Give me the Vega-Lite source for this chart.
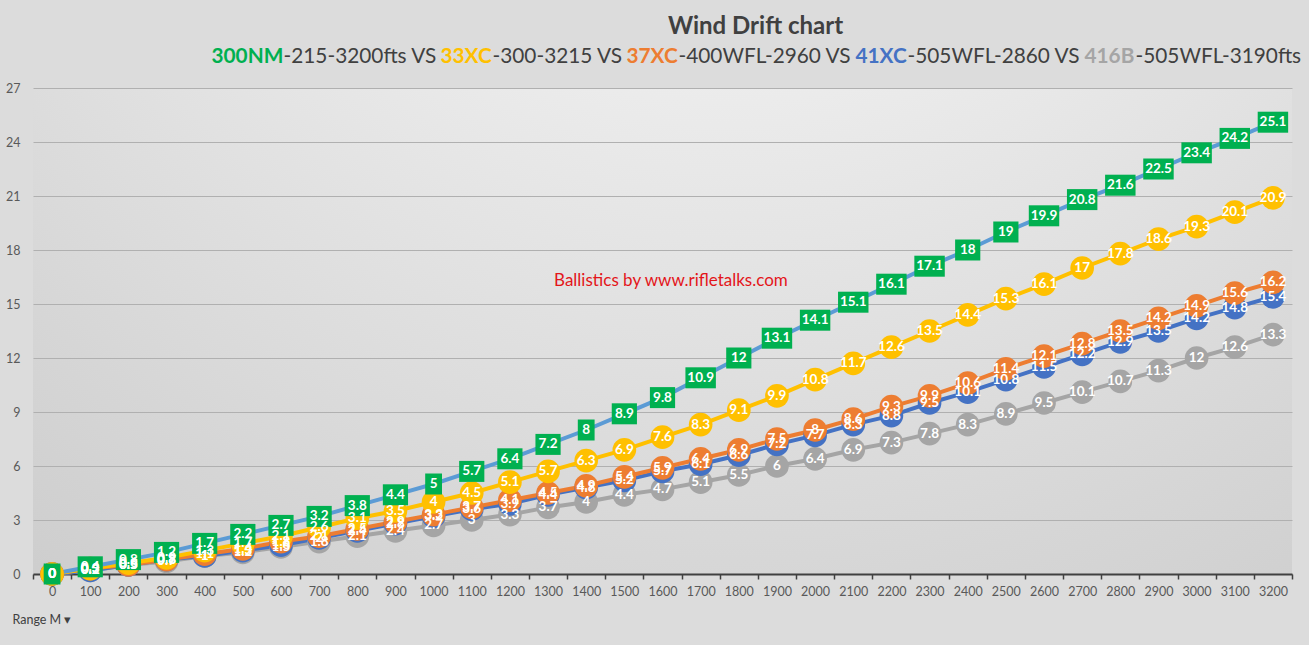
{
  "$schema": "https://vega.github.io/schema/vega-lite/v6.json",
  "width": 1259,
  "height": 486,
  "autosize": {"type": "none"},
  "padding": {"left": 33, "top": 88, "right": 17, "bottom": 71},
  "background": "#dcdcdc",
  "title": {
    "text": "Wind Drift chart",
    "anchor": "middle",
    "frame": "group",
    "dx": 93,
    "offset": 6,
    "font": "Lato",
    "fontSize": 24,
    "fontWeight": "bold",
    "color": "#404040"
  },
  "config": {
    "view": {
      "stroke": null,
      "fill": {
        "gradient": "radial",
        "x1": 0.55, "y1": -0.1, "r1": 0,
        "x2": 0.55, "y2": -0.1, "r2": 1,
        "stops": [
          {"offset": 0, "color": "#fbfbfb"},
          {"offset": 0.4, "color": "#ececec"},
          {"offset": 0.8, "color": "#d6d6d6"},
          {"offset": 1, "color": "#cccccc"}
        ]
      }
    },
    "font": "Lato",
    "axisTop": {
      "labels": false, "ticks": false, "domain": false, "grid": false,
      "titleFont": "Lato", "titleFontSize": 20.8, "titleFontWeight": "normal",
      "titleColor": "#404040", "titleAnchor": "start", "titleAlign": "left",
      "titleBaseline": "alphabetic", "titleY": -26
    }
  },
  "data": {
    "values": [
      {"range":0,"series":"416B","drift":0},{"range":100,"series":"416B","drift":0.2},{"range":200,"series":"416B","drift":0.5},{"range":300,"series":"416B","drift":0.7},{"range":400,"series":"416B","drift":1},{"range":500,"series":"416B","drift":1.2},{"range":600,"series":"416B","drift":1.5},{"range":700,"series":"416B","drift":1.8},{"range":800,"series":"416B","drift":2.1},{"range":900,"series":"416B","drift":2.4},{"range":1000,"series":"416B","drift":2.7},{"range":1100,"series":"416B","drift":3},{"range":1200,"series":"416B","drift":3.3},{"range":1300,"series":"416B","drift":3.7},{"range":1400,"series":"416B","drift":4},{"range":1500,"series":"416B","drift":4.4},{"range":1600,"series":"416B","drift":4.7},{"range":1700,"series":"416B","drift":5.1},{"range":1800,"series":"416B","drift":5.5},{"range":1900,"series":"416B","drift":6},{"range":2000,"series":"416B","drift":6.4},{"range":2100,"series":"416B","drift":6.9},{"range":2200,"series":"416B","drift":7.3},{"range":2300,"series":"416B","drift":7.8},{"range":2400,"series":"416B","drift":8.3},{"range":2500,"series":"416B","drift":8.9},{"range":2600,"series":"416B","drift":9.5},{"range":2700,"series":"416B","drift":10.1},{"range":2800,"series":"416B","drift":10.7},{"range":2900,"series":"416B","drift":11.3},{"range":3000,"series":"416B","drift":12},{"range":3100,"series":"416B","drift":12.6},{"range":3200,"series":"416B","drift":13.3},
      {"range":0,"series":"41XC","drift":0},{"range":100,"series":"41XC","drift":0.2},{"range":200,"series":"41XC","drift":0.5},{"range":300,"series":"41XC","drift":0.8},{"range":400,"series":"41XC","drift":1},{"range":500,"series":"41XC","drift":1.3},{"range":600,"series":"41XC","drift":1.6},{"range":700,"series":"41XC","drift":2},{"range":800,"series":"41XC","drift":2.4},{"range":900,"series":"41XC","drift":2.8},{"range":1000,"series":"41XC","drift":3.2},{"range":1100,"series":"41XC","drift":3.6},{"range":1200,"series":"41XC","drift":3.9},{"range":1300,"series":"41XC","drift":4.4},{"range":1400,"series":"41XC","drift":4.8},{"range":1500,"series":"41XC","drift":5.2},{"range":1600,"series":"41XC","drift":5.7},{"range":1700,"series":"41XC","drift":6.1},{"range":1800,"series":"41XC","drift":6.6},{"range":1900,"series":"41XC","drift":7.2},{"range":2000,"series":"41XC","drift":7.7},{"range":2100,"series":"41XC","drift":8.3},{"range":2200,"series":"41XC","drift":8.8},{"range":2300,"series":"41XC","drift":9.5},{"range":2400,"series":"41XC","drift":10.1},{"range":2500,"series":"41XC","drift":10.8},{"range":2600,"series":"41XC","drift":11.5},{"range":2700,"series":"41XC","drift":12.2},{"range":2800,"series":"41XC","drift":12.9},{"range":2900,"series":"41XC","drift":13.5},{"range":3000,"series":"41XC","drift":14.2},{"range":3100,"series":"41XC","drift":14.8},{"range":3200,"series":"41XC","drift":15.4},
      {"range":0,"series":"37XC","drift":0},{"range":100,"series":"37XC","drift":0.3},{"range":200,"series":"37XC","drift":0.5},{"range":300,"series":"37XC","drift":0.8},{"range":400,"series":"37XC","drift":1.1},{"range":500,"series":"37XC","drift":1.4},{"range":600,"series":"37XC","drift":1.8},{"range":700,"series":"37XC","drift":2.1},{"range":800,"series":"37XC","drift":2.5},{"range":900,"series":"37XC","drift":2.9},{"range":1000,"series":"37XC","drift":3.3},{"range":1100,"series":"37XC","drift":3.7},{"range":1200,"series":"37XC","drift":4.1},{"range":1300,"series":"37XC","drift":4.5},{"range":1400,"series":"37XC","drift":4.9},{"range":1500,"series":"37XC","drift":5.4},{"range":1600,"series":"37XC","drift":5.9},{"range":1700,"series":"37XC","drift":6.4},{"range":1800,"series":"37XC","drift":6.9},{"range":1900,"series":"37XC","drift":7.5},{"range":2000,"series":"37XC","drift":8},{"range":2100,"series":"37XC","drift":8.6},{"range":2200,"series":"37XC","drift":9.3},{"range":2300,"series":"37XC","drift":9.9},{"range":2400,"series":"37XC","drift":10.6},{"range":2500,"series":"37XC","drift":11.4},{"range":2600,"series":"37XC","drift":12.1},{"range":2700,"series":"37XC","drift":12.8},{"range":2800,"series":"37XC","drift":13.5},{"range":2900,"series":"37XC","drift":14.2},{"range":3000,"series":"37XC","drift":14.9},{"range":3100,"series":"37XC","drift":15.6},{"range":3200,"series":"37XC","drift":16.2},
      {"range":0,"series":"33XC","drift":0},{"range":100,"series":"33XC","drift":0.3},{"range":200,"series":"33XC","drift":0.6},{"range":300,"series":"33XC","drift":0.9},{"range":400,"series":"33XC","drift":1.3},{"range":500,"series":"33XC","drift":1.7},{"range":600,"series":"33XC","drift":2.1},{"range":700,"series":"33XC","drift":2.6},{"range":800,"series":"33XC","drift":3.1},{"range":900,"series":"33XC","drift":3.5},{"range":1000,"series":"33XC","drift":4},{"range":1100,"series":"33XC","drift":4.5},{"range":1200,"series":"33XC","drift":5.1},{"range":1300,"series":"33XC","drift":5.7},{"range":1400,"series":"33XC","drift":6.3},{"range":1500,"series":"33XC","drift":6.9},{"range":1600,"series":"33XC","drift":7.6},{"range":1700,"series":"33XC","drift":8.3},{"range":1800,"series":"33XC","drift":9.1},{"range":1900,"series":"33XC","drift":9.9},{"range":2000,"series":"33XC","drift":10.8},{"range":2100,"series":"33XC","drift":11.7},{"range":2200,"series":"33XC","drift":12.6},{"range":2300,"series":"33XC","drift":13.5},{"range":2400,"series":"33XC","drift":14.4},{"range":2500,"series":"33XC","drift":15.3},{"range":2600,"series":"33XC","drift":16.1},{"range":2700,"series":"33XC","drift":17},{"range":2800,"series":"33XC","drift":17.8},{"range":2900,"series":"33XC","drift":18.6},{"range":3000,"series":"33XC","drift":19.3},{"range":3100,"series":"33XC","drift":20.1},{"range":3200,"series":"33XC","drift":20.9},
      {"range":0,"series":"300NM","drift":0},{"range":100,"series":"300NM","drift":0.4},{"range":200,"series":"300NM","drift":0.8},{"range":300,"series":"300NM","drift":1.2},{"range":400,"series":"300NM","drift":1.7},{"range":500,"series":"300NM","drift":2.2},{"range":600,"series":"300NM","drift":2.7},{"range":700,"series":"300NM","drift":3.2},{"range":800,"series":"300NM","drift":3.8},{"range":900,"series":"300NM","drift":4.4},{"range":1000,"series":"300NM","drift":5},{"range":1100,"series":"300NM","drift":5.7},{"range":1200,"series":"300NM","drift":6.4},{"range":1300,"series":"300NM","drift":7.2},{"range":1400,"series":"300NM","drift":8},{"range":1500,"series":"300NM","drift":8.9},{"range":1600,"series":"300NM","drift":9.8},{"range":1700,"series":"300NM","drift":10.9},{"range":1800,"series":"300NM","drift":12},{"range":1900,"series":"300NM","drift":13.1},{"range":2000,"series":"300NM","drift":14.1},{"range":2100,"series":"300NM","drift":15.1},{"range":2200,"series":"300NM","drift":16.1},{"range":2300,"series":"300NM","drift":17.1},{"range":2400,"series":"300NM","drift":18},{"range":2500,"series":"300NM","drift":19},{"range":2600,"series":"300NM","drift":19.9},{"range":2700,"series":"300NM","drift":20.8},{"range":2800,"series":"300NM","drift":21.6},{"range":2900,"series":"300NM","drift":22.5},{"range":3000,"series":"300NM","drift":23.4},{"range":3100,"series":"300NM","drift":24.2},{"range":3200,"series":"300NM","drift":25.1}
    ]
  },
  "resolve": {"axis": {"x": "independent"}},
  "layer": [
    {
      "encoding": {
        "x": {
          "field": "range",
          "type": "ordinal",
          "scale": {"type": "band", "paddingInner": 0, "paddingOuter": 0},
          "axis": {
            "title": "Range M  \u25be",
            "titleFont": "Lato",
            "titleFontSize": 12.5,
            "titleFontWeight": "normal",
            "titleColor": "#404040",
            "titleAnchor": "start",
            "titleAlign": "left",
            "titleBaseline": "middle",
            "titleX": -21,
            "titleY": 45,
            "labelAngle": 0,
            "labelFont": "Lato",
            "labelFontSize": 12.5,
            "labelColor": "#595959",
            "labelPadding": 6,
            "domainColor": "#404040",
            "domainWidth": 2,
            "tickColor": "#404040",
            "tickWidth": 1.5,
            "tickSize": 5,
            "tickBand": "extent",
            "grid": false
          }
        },
        "y": {
          "field": "drift",
          "type": "quantitative",
          "scale": {"domain": [0, 27], "nice": false},
          "axis": {
            "title": null,
            "values": [0, 3, 6, 9, 12, 15, 18, 21, 24, 27],
            "labelFont": "Lato",
            "labelFontSize": 12.5,
            "labelColor": "#595959",
            "labelPadding": 13,
            "domain": false,
            "ticks": false,
            "grid": true,
            "gridColor": "#b0b0b0",
            "gridWidth": 1
          }
        }
      },
      "layer": [
        {
          "mark": {"type": "line", "strokeWidth": 4, "strokeCap": "round"},
          "encoding": {
            "color": {
              "field": "series",
              "type": "nominal",
              "scale": {
                "domain": ["300NM", "33XC", "37XC", "41XC", "416B"],
                "range": ["#5B9BD5", "#FFC000", "#ED7D31", "#4472C4", "#A5A5A5"]
              },
              "legend": null
            }
          }
        },
        {
          "transform": [{"filter": "datum.series != '300NM'"}],
          "mark": {"type": "point", "shape": "circle", "filled": true, "opacity": 1, "size": 560},
          "encoding": {
            "color": {"field": "series", "type": "nominal", "legend": null}
          }
        },
        {
          "transform": [{"filter": "datum.series == '300NM'"}],
          "mark": {"type": "point", "filled": true, "opacity": 1, "size": 441, "color": "#00B050"},
          "encoding": {
            "shape": {
              "condition": [
                {"test": "datum.drift < 10 && datum.drift == floor(datum.drift)", "value": "M-0.8,-1L0.8,-1L0.8,1L-0.8,1Z"},
                {"test": "datum.drift < 10 || datum.drift == floor(datum.drift)", "value": "M-1.2,-1L1.2,-1L1.2,1L-1.2,1Z"}
              ],
              "value": "M-1.45,-1L1.45,-1L1.45,1L-1.45,1Z"
            }
          }
        },
        {
          "mark": {"type": "text", "font": "Lato", "fontSize": 13.5, "fontWeight": "bold", "color": "#ffffff", "baseline": "middle", "align": "center"},
          "encoding": {
            "text": {"field": "drift", "type": "quantitative", "format": "~g"}
          }
        },
        {
          "data": {"values": [{"range": 1300, "drift": 16.3, "note": "Ballistics by www.rifletalks.com"}]},
          "mark": {"type": "text", "font": "Lato", "fontSize": 17, "color": "#e3151a", "align": "left", "baseline": "middle", "dx": 6},
          "encoding": {
            "text": {"field": "note", "type": "nominal"}
          }
        }
      ]
    },
    {"transform": [{"filter": "false"}], "mark": {"type": "point", "opacity": 0},
     "encoding": {"x": {"field": "range", "type": "ordinal", "axis": {"orient": "top", "title": "300NM", "titleColor": "#00B050", "titleFontWeight": "bold", "titleX": 178}}}},
    {"transform": [{"filter": "false"}], "mark": {"type": "point", "opacity": 0},
     "encoding": {"x": {"field": "range", "type": "ordinal", "axis": {"orient": "top", "title": "-215-3200fts VS", "titleX": 250}}}},
    {"transform": [{"filter": "false"}], "mark": {"type": "point", "opacity": 0},
     "encoding": {"x": {"field": "range", "type": "ordinal", "axis": {"orient": "top", "title": "33XC", "titleColor": "#FFC000", "titleFontWeight": "bold", "titleX": 407}}}},
    {"transform": [{"filter": "false"}], "mark": {"type": "point", "opacity": 0},
     "encoding": {"x": {"field": "range", "type": "ordinal", "axis": {"orient": "top", "title": "-300-3215 VS", "titleX": 459}}}},
    {"transform": [{"filter": "false"}], "mark": {"type": "point", "opacity": 0},
     "encoding": {"x": {"field": "range", "type": "ordinal", "axis": {"orient": "top", "title": "37XC", "titleColor": "#ED7D31", "titleFontWeight": "bold", "titleX": 593}}}},
    {"transform": [{"filter": "false"}], "mark": {"type": "point", "opacity": 0},
     "encoding": {"x": {"field": "range", "type": "ordinal", "axis": {"orient": "top", "title": "-400WFL-2960 VS", "titleX": 645}}}},
    {"transform": [{"filter": "false"}], "mark": {"type": "point", "opacity": 0},
     "encoding": {"x": {"field": "range", "type": "ordinal", "axis": {"orient": "top", "title": "41XC", "titleColor": "#4472C4", "titleFontWeight": "bold", "titleX": 822}}}},
    {"transform": [{"filter": "false"}], "mark": {"type": "point", "opacity": 0},
     "encoding": {"x": {"field": "range", "type": "ordinal", "axis": {"orient": "top", "title": "-505WFL-2860 VS", "titleX": 874}}}},
    {"transform": [{"filter": "false"}], "mark": {"type": "point", "opacity": 0},
     "encoding": {"x": {"field": "range", "type": "ordinal", "axis": {"orient": "top", "title": "416B", "titleColor": "#A5A5A5", "titleFontWeight": "bold", "titleX": 1051}}}},
    {"transform": [{"filter": "false"}], "mark": {"type": "point", "opacity": 0},
     "encoding": {"x": {"field": "range", "type": "ordinal", "axis": {"orient": "top", "title": "-505WFL-3190fts", "titleX": 1102}}}}
  ]
}
